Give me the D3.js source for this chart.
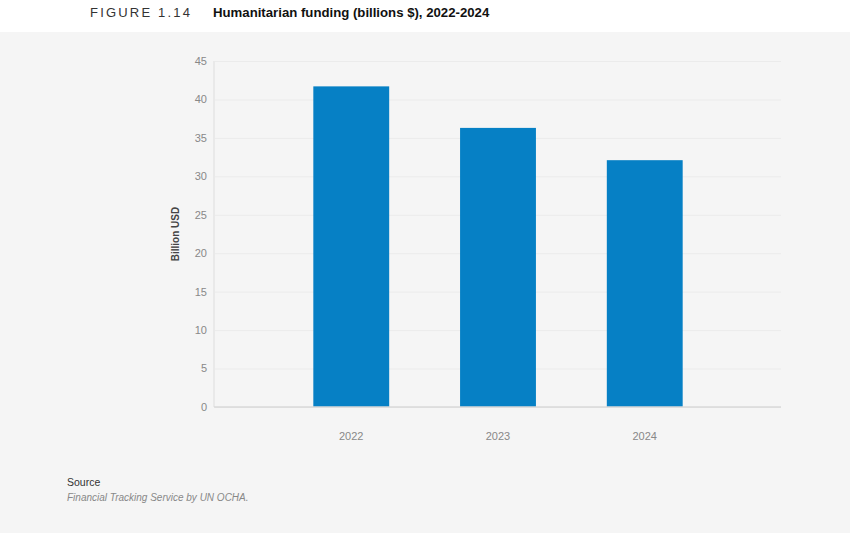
<!DOCTYPE html>
<head>
  <meta charset="utf-8">
  <title>Humanitarian funding</title>
  <script src="https://cdn.jsdelivr.net/npm/d3@7"></script>
</head>

<style>
  body {
    margin: 0;
    font-family: "Liberation Sans", Arial, sans-serif;
    background: #fff;
  }

  #header {
    height: 32px;
    background: #fff;
    position: relative;
  }

  .fig-num {
    position: absolute;
    left: 90px;
    top: 5px;
    font-size: 13px;
    letter-spacing: 2.2px;
    color: #333;
  }

  .fig-title {
    position: absolute;
    left: 213px;
    top: 5px;
    font-size: 13.2px;
    font-weight: bold;
    color: #111;
  }

  #panel {
    background: #f5f5f5;
    height: 501px;
    position: relative;
  }

  .grid line { stroke: #ebebeb; }
  .grid path { display: none; }
  .tick-label { fill: #888; font-size: 11px; }

  .source {
    position: absolute;
    left: 67px;
    top: 444px;
    font-size: 10.5px;
    color: #333;
  }
  .source-text {
    position: absolute;
    left: 67px;
    top: 460px;
    font-size: 10px;
    font-style: italic;
    color: #888;
  }
</style>

<body>
  <div id='header'>
    <span class='fig-num'>FIGURE 1.14</span>
    <span class='fig-title'>Humanitarian funding (billions $), 2022-2024</span>
  </div>
  <div id='panel'>
    <svg id='svg-chart' width='850' height='430'></svg>
    <div class='source'>Source</div>
    <div class='source-text'>Financial Tracking Service by UN OCHA.</div>
  </div>
</body>

<script>

var years = ['2022', '2023', '2024'],
    funding = [41.7, 36.3, 32.1],
    y_ticks = [0, 5, 10, 15, 20, 25, 30, 35, 40, 45];

// svg sits below the 32px header
var margin = {top: 29, left: 215, right: 69, bottom: 55},
    width = 850 - margin.left - margin.right,
    height = 346;

var svg = d3.select('#svg-chart');
var g = svg.append('g')
  .attr('transform', 'translate(' + margin.left + ',' + margin.top + ')');

var x = d3.scaleBand()
  .domain(years)
  .range([0, width])
  .paddingInner(0.483)
  .paddingOuter(0.67);

var y = d3.scaleLinear()
  .domain([0, 45])
  .range([height, 0]);

// gridlines
g.append('g')
  .attr('class', 'grid')
  .call(d3.axisLeft(y).tickValues(y_ticks).tickSize(-width).tickFormat(''));

// axis lines
g.append('line')
  .attr('x1', -1).attr('x2', -1)
  .attr('y1', 0).attr('y2', height)
  .attr('stroke', '#ddd');

g.selectAll('.bar')
  .data(funding)
  .enter()
  .append('rect')
  .attr('class', 'bar')
  .attr('x', function(d, i) { return x(years[i]); })
  .attr('width', x.bandwidth())
  .attr('y', function(d) { return y(d); })
  .attr('height', function(d) { return height - y(d); })
  .attr('fill', '#0680c5');

g.append('line')
  .attr('x1', -1).attr('x2', width)
  .attr('y1', height).attr('y2', height)
  .attr('stroke', '#d8d8d8')
  .attr('stroke-width', 1.5);

g.selectAll('.y-label')
  .data(y_ticks)
  .enter()
  .append('text')
  .attr('class', 'tick-label')
  .attr('x', -8)
  .attr('y', function(d) { return y(d); })
  .attr('dy', '0.35em')
  .attr('text-anchor', 'end')
  .text(function(d) { return d; });

g.selectAll('.x-label')
  .data(years)
  .enter()
  .append('text')
  .attr('class', 'tick-label')
  .attr('x', function(d) { return x(d) + x.bandwidth() / 2; })
  .attr('y', height + 33)
  .attr('text-anchor', 'middle')
  .text(function(d) { return d; });

g.append('text')
  .attr('transform', 'translate(-36,' + (height / 2) + ') rotate(-90)')
  .attr('text-anchor', 'middle')
  .attr('font-size', 10)
  .attr('font-weight', 'bold')
  .attr('fill', '#444')
  .text('Billion USD');

</script>
